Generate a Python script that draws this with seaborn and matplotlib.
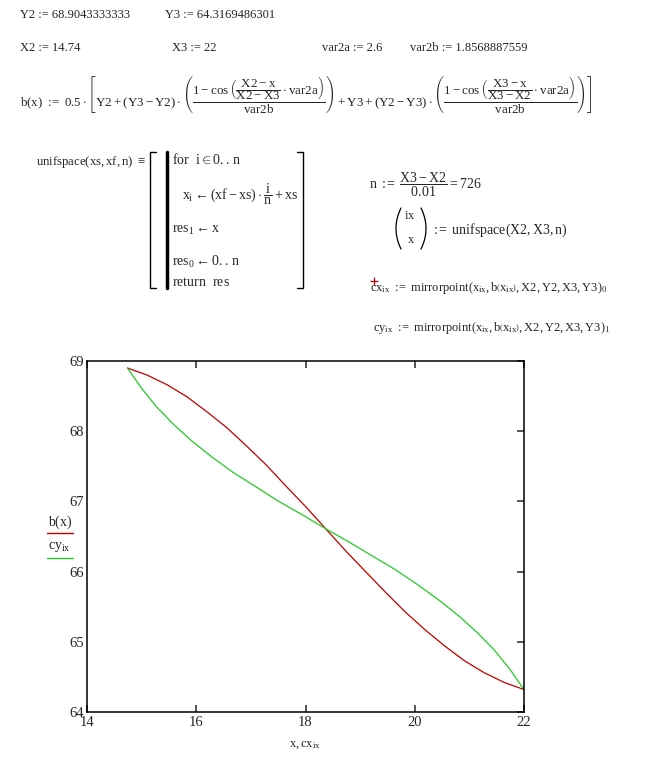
import numpy as np
import pandas as pd
import matplotlib
matplotlib.use("Agg")
import matplotlib.pyplot as plt
import seaborn as sns

# values
x_b = [14.74, 15.10, 15.47, 15.83, 16.19, 16.56, 16.92, 17.28, 17.64, 18.01, 18.37,
       18.73, 19.10, 19.46, 19.82, 20.19, 20.55, 20.91, 21.27, 21.64, 22.00]
y_b = [68.90, 68.80, 68.66, 68.49, 68.28, 68.05, 67.79, 67.52, 67.22, 66.92, 66.61,
       66.30, 66.00, 65.71, 65.43, 65.17, 64.94, 64.73, 64.56, 64.42, 64.32]
cx = [14.74, 14.99, 15.27, 15.58, 15.92, 16.29, 16.68, 17.09, 17.51, 17.94, 18.37,
      18.80, 19.23, 19.66, 20.06, 20.45, 20.82, 21.16, 21.47, 21.75, 22.00]
cy = [68.90, 68.62, 68.35, 68.10, 67.86, 67.63, 67.41, 67.21, 67.00, 66.81, 66.61,
      66.42, 66.22, 66.02, 65.81, 65.59, 65.36, 65.12, 64.87, 64.60, 64.32]
x_ticks = [14, 16, 18, 20, 22]
y_ticks = [64, 65, 66, 67, 68, 69]

RED = '#c00000'
GREEN = '#22cc22'

sns.set_style('ticks')
plt.rcParams['font.family'] = ['Liberation Serif', 'DejaVu Serif']
plt.rcParams['mathtext.fontset'] = 'custom'
plt.rcParams['mathtext.rm'] = 'Liberation Serif'
plt.rcParams['mathtext.it'] = 'Liberation Serif'
plt.rcParams['mathtext.bf'] = 'Liberation Serif:bold'

W, H = 654, 759
fig = plt.figure(figsize=(W / 100, H / 100), dpi=100)
fig.patch.set_facecolor('white')

# overlay in pixel coordinates for the worksheet text
ax0 = fig.add_axes([0, 0, 1, 1])
ax0.set_xlim(0, W)
ax0.set_ylim(H, 0)
ax0.axis('off')

fs = 9
CE = r'\ {:}\!\!{=}\ '   # Mathcad ":="


def put(x, y, s, **kw):
    kw.setdefault('fontsize', fs)
    ax0.text(x, y, s, ha=kw.pop('ha', 'left'), va=kw.pop('va', 'center'), **kw)


put(20, 15, 'Y2 := 68.9043333333')
put(165, 15, 'Y3 := 64.3169486301')
put(20, 48, 'X2 := 14.74')
put(172, 48, 'X3 := 22')
put(322, 48, 'var2a := 2.6')
put(410, 48, 'var2b := 1.8568887559')

bx = (r'$b(x)' + CE + r'0.5\cdot\left[Y2 + (Y3 - Y2)\cdot\left(\dfrac{1 - \cos\left(\dfrac{X2 - x}{X2 - X3}\cdot var2a\right)}{var2b}\right)'
      r' + Y3 + (Y2 - Y3)\cdot\left(\dfrac{1 - \cos\left(\dfrac{X3 - x}{X3 - X2}\cdot var2a\right)}{var2b}\right)\right]$')
put(20, 94, bx, fontsize=9.4)

# program block
pf = 10
put(36, 162, r'$unifspace(xs, xf, n)\ \equiv$', fontsize=9.2)
kw = dict(color='black', lw=1.0)
ax0.plot([156, 150, 150, 156], [152, 152, 288, 288], **kw)
ax0.plot([297, 303, 303, 297], [152, 152, 288, 288], **kw)
ax0.plot([167, 167], [152, 288], color='black', lw=2.5)
put(172, 160, r'$for\ \ i \in 0..\,n$', fontsize=pf)
put(182, 194, r'$x_i \leftarrow (xf - xs)\cdot\dfrac{i}{n} + xs$', fontsize=pf)
put(172, 230, r'$res_1 \leftarrow x$', fontsize=pf)
put(172, 262, r'$res_0 \leftarrow 0..\,n$', fontsize=pf)
put(172, 282, r'$return\ \ res$', fontsize=pf)

put(369, 185, r'$n' + CE + r'\dfrac{X3 - X2}{0.01} = 726$', fontsize=pf)
# tall thin parentheses around the (ix, x) vector
py = np.linspace(208, 249, 30)
bow = 5 * ((py - 228.5) / 20.5) ** 2
ax0.plot(396 + bow, py, color='black', lw=0.9)
ax0.plot(426 - bow, py, color='black', lw=0.9)
put(410, 216, r'$ix$', ha='center')
put(411, 240, r'$x$', ha='center')
put(428, 230, r'$' + CE + r'unifspace(X2, X3, n)$', fontsize=pf)
put(370, 288, r'$cx_{ix}' + CE + r'mirrorpoint\left(x_{ix}, b\left(x_{ix}\right), X2, Y2, X3, Y3\right)_0$')
ax0.plot([374], [281], marker='+', color=RED, markersize=6, mew=0.9)
put(373, 328, r'$cy_{ix}' + CE + r'mirrorpoint\left(x_{ix}, b\left(x_{ix}\right), X2, Y2, X3, Y3\right)_1$')

# legend on the left
put(48, 522, r'$b(x)$', fontsize=pf)
ax0.plot([47, 73], [533, 533], color=RED, lw=1.0)
put(48, 547, r'$cy_{ix}$', fontsize=pf)
ax0.plot([47, 73], [558, 558], color=GREEN, lw=1.0)

put(305, 745, r'$x, cx_{ix}$', ha='center')

# the plot itself
ax = fig.add_axes([87 / W, 1 - 712 / H, (524 - 87) / W, (712 - 361) / H])
sns.lineplot(x=x_b, y=y_b, ax=ax, color=RED, lw=0.9, estimator=None)
sns.lineplot(x=cx, y=cy, ax=ax, color=GREEN, lw=0.9, estimator=None)
ax.set_xlim(14, 22)
ax.set_ylim(64, 69)
ax.set_xticks(x_ticks)
ax.set_yticks(y_ticks)
for sp in ax.spines.values():
    sp.set_visible(True)
    sp.set_linewidth(1.1)
    sp.set_color('black')
ax.tick_params(axis='x', direction='in', top=True, length=5, width=1.1, labelsize=10.5, pad=3)
ax.tick_params(axis='y', direction='in', right=True, left=True, length=5, width=1.1, labelsize=10.5, pad=2)
ax.yaxis.set_tick_params(which='major', left=False, labelleft=True)
ax.grid(False)
ax.set_facecolor('white')

fig.savefig('out.png', dpi=100, facecolor='white')
